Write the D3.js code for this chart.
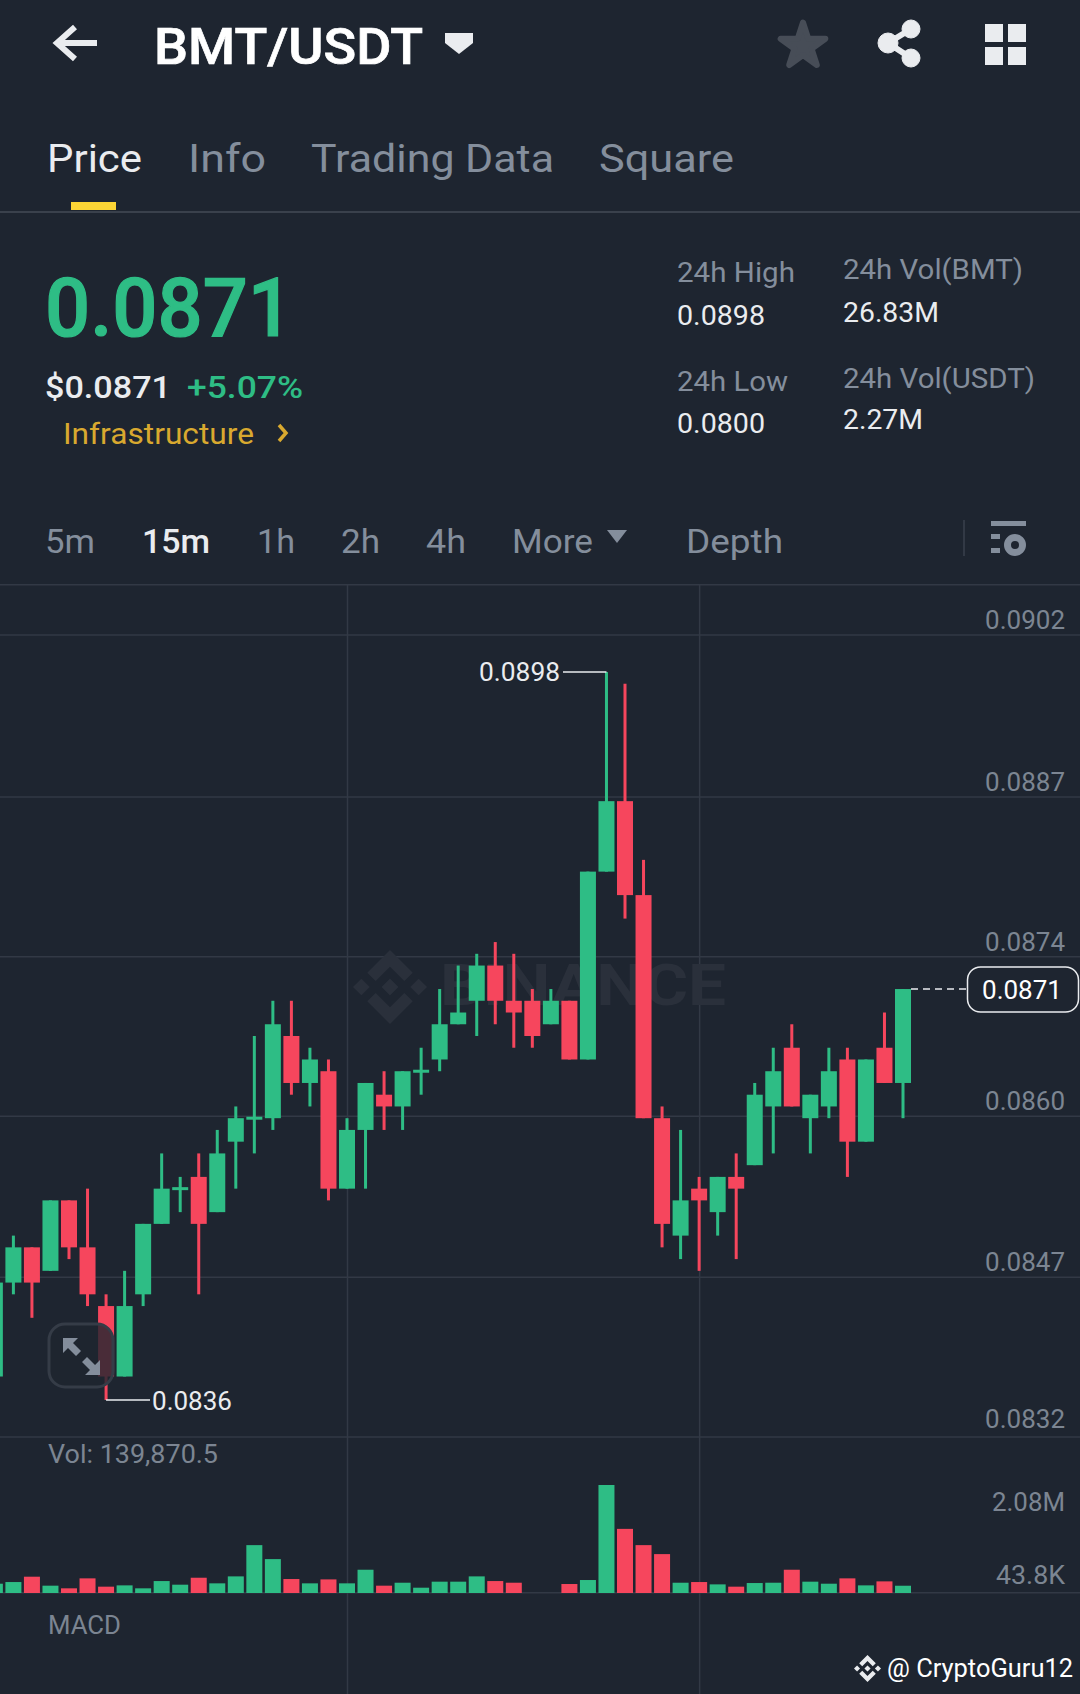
<!DOCTYPE html>
<html>
<head>
<meta charset="utf-8">
<title>BMT/USDT</title>
<script src="https://cdn.jsdelivr.net/npm/d3@7"></script>
<style>
  html, body { margin: 0; padding: 0; background: #1e2530; }
  svg { display: block; }
  text { font-family: Roboto, "Noto Sans", sans-serif; }
</style>
</head>
<body>
<svg id="chart"></svg>
<script>
// 15m candles, index 0 is the one cut by the left edge
const opens = [0.0838, 0.0846, 0.0849, 0.0847, 0.0853, 0.0849, 0.0844, 0.0838, 0.0845, 0.0851,
  0.0854, 0.0855, 0.0852, 0.0858, 0.0860, 0.0860, 0.0867, 0.0863, 0.0864, 0.0854,
  0.0859, 0.0862, 0.0861, 0.0864, 0.0865, 0.0868, 0.0870, 0.0873, 0.0870, 0.0870,
  0.0868, 0.0870, 0.0865, 0.0881, 0.0887, 0.0879, 0.0860, 0.0850, 0.0854, 0.0852,
  0.0855, 0.0856, 0.0861, 0.0866, 0.0860, 0.0861, 0.0865, 0.0858, 0.0866, 0.0863];
const highs = [0.0846, 0.0850, 0.0849, 0.0853, 0.0853, 0.0854, 0.0845, 0.0847, 0.0851, 0.0857,
  0.0855, 0.0857, 0.0859, 0.0861, 0.0867, 0.0870, 0.0870, 0.0866, 0.0865, 0.0860,
  0.0863, 0.0864, 0.0864, 0.0866, 0.0871, 0.0873, 0.0874, 0.0875, 0.0874, 0.0871,
  0.0871, 0.0870, 0.0881, 0.0898, 0.0897, 0.0882, 0.0861, 0.0859, 0.0855, 0.0855,
  0.0857, 0.0863, 0.0866, 0.0868, 0.0862, 0.0866, 0.0866, 0.0865, 0.0869, 0.0871];
const lows = [0.0838, 0.0845, 0.0843, 0.0847, 0.0848, 0.0844, 0.0836, 0.0838, 0.0844, 0.0851,
  0.0852, 0.0845, 0.0852, 0.0854, 0.0857, 0.0859, 0.0862, 0.0861, 0.0853, 0.0854,
  0.0854, 0.0859, 0.0859, 0.0862, 0.0864, 0.0868, 0.0867, 0.0868, 0.0866, 0.0866,
  0.0868, 0.0865, 0.0865, 0.0881, 0.0877, 0.0860, 0.0849, 0.0848, 0.0847, 0.0850,
  0.0848, 0.0856, 0.0857, 0.0861, 0.0857, 0.0860, 0.0855, 0.0858, 0.0863, 0.0860];
const closes = [0.0846, 0.0849, 0.0846, 0.0853, 0.0849, 0.0845, 0.0838, 0.0844, 0.0851, 0.0854,
  0.0854, 0.0851, 0.0857, 0.0860, 0.0860, 0.0868, 0.0863, 0.0865, 0.0854, 0.0859,
  0.0863, 0.0861, 0.0864, 0.0864, 0.0868, 0.0869, 0.0873, 0.0870, 0.0869, 0.0867,
  0.0870, 0.0865, 0.0881, 0.0887, 0.0879, 0.0860, 0.0851, 0.0853, 0.0853, 0.0855,
  0.0854, 0.0862, 0.0864, 0.0861, 0.0862, 0.0864, 0.0858, 0.0865, 0.0863, 0.0871];
// volume per candle, two candles have no bar in the picture
const volumes = [179000, 211000, 314000, 141000, 90000, 282000, 122000, 147000, 90000, 230000,
  160000, 294000, 186000, 320000, 922000, 653000, 269000, 186000, 262000, 186000,
  448000, 141000, 198000, 102000, 218000, 218000, 320000, 230000, 198000, 0,
  0, 173000, 250000, 2080000, 1235000, 922000, 749000, 198000, 211000, 166000,
  122000, 192000, 198000, 448000, 218000, 179000, 282000, 147000, 224000, 139870.5];

const gridValues = [0.09012, 0.08874, 0.08738, 0.08602, 0.08465, 0.08329];
const gridLabels = ["0.0902", "0.0887", "0.0874", "0.0860", "0.0847", "0.0832"];
const timeGridIndex = [19, 38];
const intervals = ["5m", "15m", "1h", "2h", "4h", "More", "Depth"];
const tabs = ["Price", "Info", "Trading Data", "Square"];

const width = 1080, height = 1694;
const bg = "#1e2530", green = "#2ebd85", red = "#f6465d";
const grey = "#848e9c", white = "#eaecef", gridColor = "#323945";

const svg = d3.select("#chart").attr("width", width).attr("height", height);
svg.append("rect").attr("width", width).attr("height", height).attr("fill", bg);

function label(x, y, txt, size, color, w, weight) {
  const t = svg.append("text").attr("x", x).attr("y", y).text(txt)
    .attr("font-size", size).attr("fill", color).attr("font-weight", weight || 400);
  if (w) t.attr("textLength", w).attr("lengthAdjust", "spacingAndGlyphs");
  return t;
}

// Binance logo, path from a 126.61 wide box
const logoPaths = [
  "M38.73 53.2L63.3 28.63l24.6 24.6 14.3-14.3L63.3 0 24.43 38.9z",
  "M0 63.31l14.3-14.3 14.3 14.3-14.3 14.3z",
  "M38.73 73.41L63.3 97.98l24.6-24.6 14.31 14.29-.01.01L63.3 126.61 24.43 87.74l-.02-.02z",
  "M98.01 63.31l14.3-14.3 14.3 14.3-14.3 14.3z",
  "M77.81 63.3h.01L63.3 48.78 48.81 63.28l14.49 14.52 14.52-14.52z"
];
function logo(x, y, size, color) {
  const g = svg.append("g").attr("transform", `translate(${x},${y}) scale(${size / 126.61})`);
  logoPaths.forEach(p => g.append("path").attr("d", p).attr("fill", color));
}

// ---- header ----
svg.append("path").attr("d", "M97 43H59M75 27L57 43L75 59")
  .attr("fill", "none").attr("stroke", white).attr("stroke-width", 6);
label(154, 64, "BMT/USDT", 50, "#fff", 269, 500).attr("stroke", "#fff").attr("stroke-width", 0.7);
svg.append("path").attr("d", "M445 33H473V43L459 54L445 43Z").attr("fill", white);

const star = d3.symbol().type(d3.symbolStar).size(620)();
svg.append("path").attr("d", star).attr("transform", "translate(803,46)").attr("fill", "#474d57")
  .attr("stroke", "#474d57").attr("stroke-width", 6).attr("stroke-linejoin", "round");

const share = svg.append("g").attr("fill", white).attr("stroke", white);
share.append("path").attr("d", "M888 43L911 29M888 43L911 58").attr("stroke-width", 6);
[[888, 43, 10], [911, 29, 9], [911, 58, 9]].forEach(c =>
  share.append("circle").attr("cx", c[0]).attr("cy", c[1]).attr("r", c[2]));

[[985, 24], [1008, 24], [985, 47], [1008, 47]].forEach(c =>
  svg.append("rect").attr("x", c[0]).attr("y", c[1]).attr("width", 18).attr("height", 18).attr("fill", white));

const tabX = [47, 188, 311, 599], tabW = [95, 78, 243, 135];
tabs.forEach((t, i) => label(tabX[i], 172, t, 39, i === 0 ? white : grey, tabW[i], 400));
svg.append("rect").attr("x", 71).attr("y", 202).attr("width", 45).attr("height", 8).attr("fill", "#fcd535");
svg.append("rect").attr("x", 0).attr("y", 211).attr("width", width).attr("height", 2).attr("fill", "#3a414c");

label(45, 336, "0.0871", 81, green, 248, 500).attr("stroke", green).attr("stroke-width", 1.2);
label(45, 398, "$0.0871", 32, white, 126, 500);
label(187, 398, "+5.07%", 32, green, 116, 500);
label(63, 444, "Infrastructure", 29, "#d9a92f", 191);
svg.append("path").attr("d", "M279 425L286 433L279 441").attr("fill", "none")
  .attr("stroke", "#d9a92f").attr("stroke-width", 3.5);

label(677, 282, "24h High", 28, grey, 118);
label(677, 325, "0.0898", 28, white, 88);
label(677, 391, "24h Low", 28, grey, 111);
label(677, 433, "0.0800", 28, white, 88);
label(843, 279, "24h Vol(BMT)", 28, grey, 180);
label(843, 322, "26.83M", 28, white, 96);
label(843, 388, "24h Vol(USDT)", 28, grey, 192);
label(843, 429, "2.27M", 28, white, 80);

const intervalX = [45, 142, 257, 341, 426, 512, 686], intervalW = [50, 68, 38, 39, 40, 81, 97];
intervals.forEach((t, i) => label(intervalX[i], 553, t, 34, i === 1 ? white : grey, intervalW[i], i === 1 ? 500 : 400));
svg.append("path").attr("d", "M607 530H627L617 543Z").attr("fill", grey);
svg.append("rect").attr("x", 963).attr("y", 520).attr("width", 2).attr("height", 36).attr("fill", "#323945");
// settings icon
svg.append("rect").attr("x", 991).attr("y", 521).attr("width", 35).attr("height", 5).attr("fill", grey);
svg.append("rect").attr("x", 991).attr("y", 534).attr("width", 9).attr("height", 5).attr("fill", grey);
svg.append("rect").attr("x", 991).attr("y", 548).attr("width", 9).attr("height", 5).attr("fill", grey);
svg.append("circle").attr("cx", 1015).attr("cy", 545).attr("r", 7.5).attr("fill", bg)
  .attr("stroke", grey).attr("stroke-width", 7);

// ---- scales ----
const x = d3.scaleLinear().domain([1, 49]).range([13.4, 903]);
const y = d3.scaleLinear().domain([0.0836, 0.0898]).range([1400, 672]);
const yVol = d3.scaleLinear().domain([0, 2080000]).range([1593, 1485]);
const indexes = d3.range(opens.length);
const bodyW = 16, wickW = 3;
const colorOf = i => closes[i] >= opens[i] ? green : red;

// ---- grid and axes ----
svg.append("rect").attr("x", 0).attr("y", 584).attr("width", width).attr("height", 1.5).attr("fill", gridColor);

const priceAxis = d3.axisLeft(y).tickValues(gridValues)
  .tickFormat((d, i) => gridLabels[i]).tickSize(width);
const priceG = svg.append("g").attr("transform", `translate(${width},0)`).call(priceAxis);
priceG.select(".domain").remove();
priceG.selectAll("line").attr("stroke", gridColor).attr("stroke-width", 1.5);
priceG.selectAll("text").attr("x", -15).attr("dy", (d, i) => i === 5 ? -9 : -6).attr("font-size", 26)
  .attr("fill", "#7c8592").attr("text-anchor", "end")
  .style("font-family", "Roboto, sans-serif");

const timeAxis = d3.axisBottom(x).tickValues(timeGridIndex).tickFormat("").tickSize(height - 585);
const timeG = svg.append("g").attr("transform", "translate(0,585)").call(timeAxis);
timeG.select(".domain").remove();
timeG.selectAll("line").attr("stroke", gridColor).attr("stroke-width", 1.5);

svg.append("rect").attr("x", 0).attr("y", 1592).attr("width", width).attr("height", 1.5).attr("fill", gridColor);

// watermark sits under the candles
logo(353, 950, 74, "#2a303b");
label(440, 1005, "BINANCE", 58, "#2a303b", 286, 700);

// ---- candles ----
svg.append("g").selectAll("rect").data(indexes).enter().append("rect")
  .attr("x", i => x(i) - wickW / 2)
  .attr("y", i => y(highs[i]))
  .attr("width", wickW)
  .attr("height", i => y(lows[i]) - y(highs[i]))
  .attr("fill", colorOf);

svg.append("g").selectAll("rect").data(indexes).enter().append("rect")
  .attr("x", i => x(i) - bodyW / 2)
  .attr("y", i => opens[i] === closes[i] ? y(closes[i]) - 1.5 : y(Math.max(opens[i], closes[i])))
  .attr("width", bodyW)
  .attr("height", i => Math.max(3, Math.abs(y(opens[i]) - y(closes[i]))))
  .attr("fill", colorOf);

// ---- volume ----
svg.append("g").selectAll("rect").data(indexes.filter(i => volumes[i] > 0)).enter().append("rect")
  .attr("x", i => x(i) - bodyW / 2)
  .attr("y", i => yVol(volumes[i]))
  .attr("width", bodyW)
  .attr("height", i => yVol(0) - yVol(volumes[i]))
  .attr("fill", colorOf);

// ---- high, low and last price marks ----
const last = closes.length - 1;
const hiIdx = d3.maxIndex(highs), loIdx = d3.minIndex(lows);
svg.append("path").attr("d", `M${x(hiIdx)} ${y(highs[hiIdx])}H563`).attr("fill", "none")
  .attr("stroke", white).attr("stroke-width", 1.5);
label(479, 681, d3.format(".4f")(highs[hiIdx]), 25, white, 81);
svg.append("path").attr("d", `M${x(loIdx)} ${y(lows[loIdx])}H150`).attr("fill", "none")
  .attr("stroke", white).attr("stroke-width", 1.5);
label(152, 1410, d3.format(".4f")(lows[loIdx]), 25, white, 80);

svg.append("line").attr("x1", x(last) + 8).attr("x2", 967)
  .attr("y1", y(closes[last])).attr("y2", y(closes[last]))
  .attr("stroke", white).attr("stroke-width", 1.5).attr("stroke-dasharray", "7 5");
svg.append("rect").attr("x", 967.5).attr("y", 967).attr("width", 111).attr("height", 45).attr("rx", 13)
  .attr("fill", bg).attr("stroke", white).attr("stroke-width", 1.5);
label(982, 999, d3.format(".4f")(closes[last]), 25, "#fff", 80);

// expand button over the chart
svg.append("rect").attr("x", 49).attr("y", 1324).attr("width", 64).attr("height", 63).attr("rx", 16)
  .attr("fill", bg).attr("fill-opacity", 0.8).attr("stroke", "#353c47").attr("stroke-width", 3);
svg.append("path").attr("d", "M63 1338H78L73 1343L81 1351L76 1356L68 1348L63 1353Z M100 1375H85L90 1370L82 1362L87 1357L95 1365L100 1360Z")
  .attr("fill", grey);

// ---- lower panel text ----
label(48, 1463, "Vol: " + d3.format(",.1f")(volumes[last]), 25, "#7c8592", 170);
label(992, 1511, "2.08M", 25, "#7c8592", 73);
label(996, 1584, "43.8K", 25, "#7c8592", 69);
label(48, 1634, "MACD", 25, "#7c8592", 73);

logo(854, 1655, 27, white);
label(887, 1677, "@ CryptoGuru12", 26, "#fff", 186);
</script>
</body>
</html>
